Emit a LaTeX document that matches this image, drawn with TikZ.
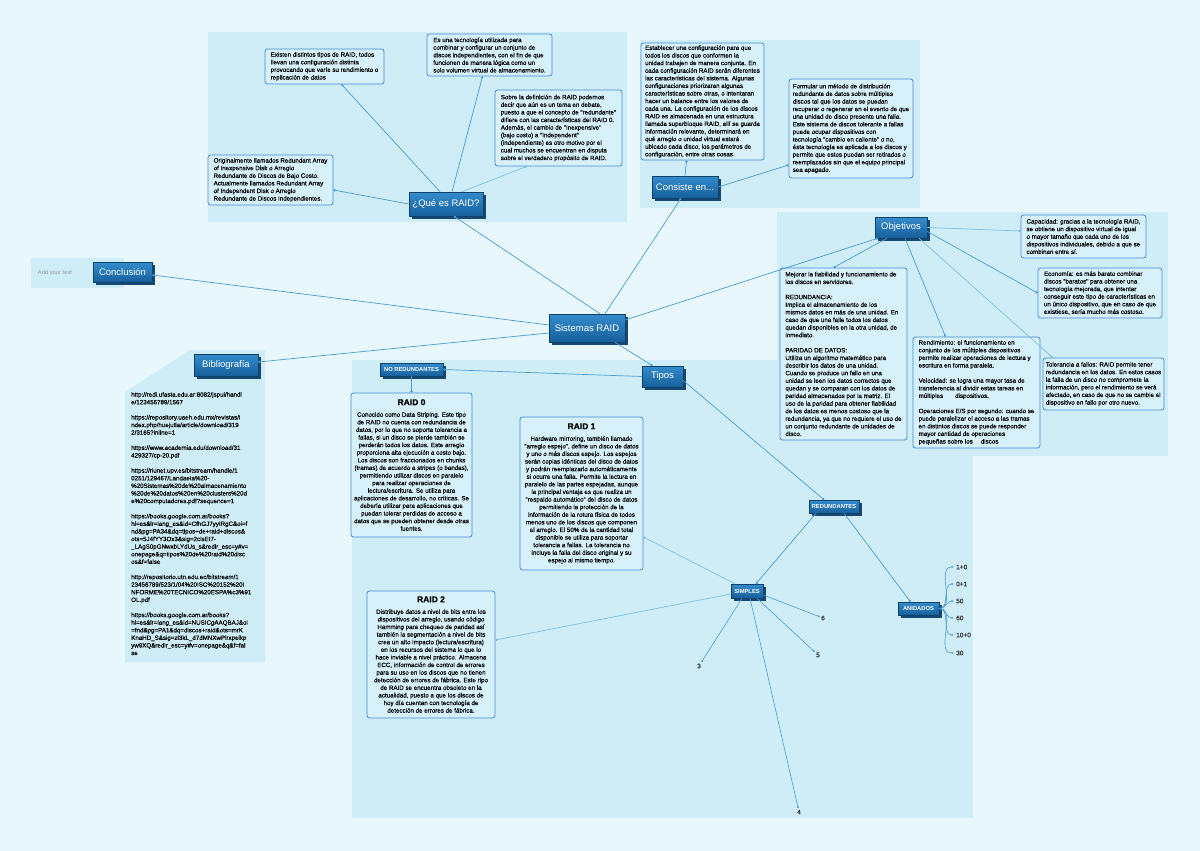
\documentclass[tikz,border=0pt]{standalone}
\usepackage{fontspec}
\setmainfont{Liberation Sans}
\newfontfamily\notefam{Liberation Sans}[FakeBold=0.45]
\usetikzlibrary{arrows.meta,shadows,positioning}

\definecolor{pagebg}{RGB}{232,247,251}
\definecolor{panelbg}{RGB}{206,237,247}
\definecolor{notebg}{RGB}{214,241,250}
\definecolor{noteline}{RGB}{70,135,215}
\definecolor{linkblue}{RGB}{75,155,212}
\definecolor{linklight}{RGB}{125,192,230}
\definecolor{topictop}{RGB}{52,140,205}
\definecolor{topicbot}{RGB}{22,95,155}
\definecolor{topicline}{RGB}{15,65,105}
\definecolor{topicshade}{RGB}{22,72,115}
\definecolor{leafgray}{RGB}{50,50,50}
\definecolor{hintgray}{RGB}{150,150,150}

\newcommand\notesize{\notefam\fontsize{6.2}{7.6}\selectfont}
\newcommand\topicsize{\fontsize{9.5}{11}\selectfont}
\newcommand\tagsize{\fontsize{5.8}{7}\selectfont\bfseries}
\newcommand\leafsize{\notefam\fontsize{6.5}{8}\selectfont}
\newcommand\raidtitle{\fontsize{8.5}{10}\selectfont\bfseries}

\begin{document}
\begin{tikzpicture}[x=1pt,y=-1pt,
  topic/.style={draw=topicline,line width=0.5pt,top color=topictop,bottom color=topicbot,text=white,font=\topicsize,inner sep=0pt,
    drop shadow={shadow xshift=2.5pt,shadow yshift=-2.5pt,fill=topicshade,opacity=1}},
  tagnode/.style={topic,font=\tagsize},
  note/.style={draw=noteline,fill=notebg,line width=0.8pt,rounded corners=2.5pt,align=left,font=\notesize,inner sep=0pt},
  raidnote/.style={note,align=center},
  leaf/.style={font=\leafsize,text=leafgray,inner sep=3pt},
  link/.style={draw=linkblue,line width=0.7pt,-{Circle[length=2.4pt]}},
  softlink/.style={link,draw=linklight},
  leaflink/.style={draw=linkblue,line width=0.6pt,-{Circle[length=1.8pt]}}
]
\fill[pagebg] (0,0) rectangle (1200,851);
\useasboundingbox (0,0) rectangle (1200,851);

% panels
\fill[panelbg] (208,32) rectangle (627,222);
\fill[panelbg] (640,40) rectangle (920,208);
\fill[panelbg] (777,212) rectangle (1168,456);
\fill[panelbg] (352,360) rectangle (973,818);
\fill[panelbg] (125,392) -- (190,350) -- (265,350) -- (265,662) -- (125,662) -- cycle;
\fill[panelbg] (31,258) rectangle (124,288);

% main topics
\node[topic,minimum width=76,minimum height=28] (raid) at (587,328) {Sistemas RAID};
\node[topic,minimum width=74,minimum height=24] (que) at (446,204) {¿Qué es RAID?};
\node[topic,minimum width=66,minimum height=22] (cons) at (685,187) {Consiste en...};
\node[topic,minimum width=52,minimum height=21] (obj) at (901,227.5) {Objetivos};
\node[topic,minimum width=59,minimum height=20] (concl) at (122.5,272) {Conclusión};
\node[topic,minimum width=64,minimum height=22] (biblio) at (226,365) {Bibliografía};
\node[topic,minimum width=41,minimum height=21] (tipos) at (662.5,376.5) {Tipos};
\node[tagnode,minimum width=63,minimum height=13] (nored) at (411.5,369.5) {NO REDUNDANTES};
\node[tagnode,minimum width=50,minimum height=13] (red) at (834,506.5) {REDUNDANTES};
\node[tagnode,minimum width=32,minimum height=14] (simp) at (747,591) {SIMPLES};
\node[tagnode,minimum width=41,minimum height=13] (anid) at (918.5,608.5) {ANIDADOS};

\node[font=\fontsize{5.8}{7}\selectfont,text=hintgray] (hint) at (55,273) {Add your text};

% que es raid
\node[note,minimum width=119,minimum height=35] (q1) at (324.5,66.5) {Existen distintos tipos de RAID, todos\\llevan una configuración distinta\\provocando que varíe su rendimiento o\\replicación de datos};
\node[note,minimum width=125,minimum height=42] (q2) at (489.5,55) {Es una tecnología utilizada para\\combinar y configurar un conjunto de\\discos independientes, con el fin de que\\funcionen de manera lógica como un\\solo volumen virtual de almacenamiento.};
\node[note,minimum width=127,minimum height=76] (q3) at (558.5,128) {Sobre la definición de RAID podemos\\decir que aún es un tema en debate,\\puesto a que el concepto de "redundante"\\difiere con las características del RAID 0.\\Además, el cambio de "Inexpensive"\\(bajo costo) a "Independent"\\(independiente) es otro motivo por el\\cual muchos se encuentran en disputa\\sobre el verdadero propósito de RAID.};
\node[note,minimum width=125,minimum height=50] (q4) at (270.5,180) {Originalmente llamados Redundant Array\\of Inexpensive Disk o Arreglo\\Redundante de Discos de Bajo Costo.\\Actualmente llamados Redundant Array\\of Independent Disk o Arreglo\\Redundante de Discos Independientes.};

% consiste en
\node[note,minimum width=123,minimum height=117] (c1) at (702.5,101.5) {Establecer una configuración para que\\todos los discos que conformen la\\unidad trabajen de manera conjunta. En\\cada configuración RAID serán diferentes\\las características del sistema. Algunas\\configuraciones priorizaran algunas\\características sobre otras, o intentaran\\hacer un balance entre los valores de\\cada una. La configuración de los discos\\RAID es almacenada en una estructura\\llamada superbloque RAID, allí se guarda\\información relevante, determinará en\\qué arreglo o unidad virtual estará\\ubicado cada disco, los parámetros de\\configuración, entre otras cosas.};
\node[note,minimum width=124,minimum height=99] (c2) at (851,128.5) {Formular un método de distribución\\redundante de datos sobre múltiples\\discos tal que los datos se puedan\\recuperar o regenerar en el evento de que\\una unidad de disco presente una falla.\\Este sistema de discos tolerante a fallas\\puede ocupar dispositivos con\\tecnología "cambio en caliente" o no,\\ésta tecnología es aplicada a los discos y\\permite que estos puedan ser retirados o\\reemplazados sin que el equipo principal\\sea apagado.};

% objetivos
\node[note,minimum width=125,minimum height=43] (o1) at (1083.5,236.5) {Capacidad: gracias a la tecnología RAID,\\se obtiene un dispositivo virtual de igual\\o mayor tamaño que cada uno de los\\dispositivos individuales, debido a que se\\combinan entre sí.};
\node[note,minimum width=124,minimum height=50] (o2) at (1100,293) {Economía: es más barato combinar\\discos "baratos" para obtener una\\tecnología mejorada, que intentar\\conseguir este tipo de características en\\un único dispositivo, que en caso de que\\existiese, sería mucho más costoso.};
\node[note,minimum width=127,minimum height=172] (o3) at (843.5,354) {Mejorar la fiabilidad y funcionamiento de\\los discos en servidores.\\[7.6pt]REDUNDANCIA:\\Implica el almacenamiento de los\\mismos datos en más de una unidad. En\\caso de que una falle todos los datos\\quedan disponibles en la otra unidad, de\\inmediato.\\[7.6pt]PARIDAD DE DATOS:\\Utiliza un algoritmo matemático para\\describir los datos de una unidad.\\Cuando se produce un fallo en una\\unidad se leen los datos correctos que\\quedan y se comparan con los datos de\\paridad almacenados por la matriz. El\\uso de la paridad para obtener fiabilidad\\de los datos es menos costoso que la\\redundancia, ya que no requiere el uso de\\un conjunto redundante de unidades de\\disco.};
\node[note,minimum width=127,minimum height=111] (o4) at (976.5,392.5) {Rendimiento: el funcionamiento en\\conjunto de los múltiples dispositivos\\permite realizar operaciones de lectura y\\escritura en forma paralela.\\[7.6pt]Velocidad: se logra una mayor tasa de\\transferencia al dividir estas tareas en\\múltiples\hspace{12pt}dispositivos.\\[7.6pt]Operaciones E/S por segundo: cuando se\\puede paralelizar el acceso a las tramas\\en distintos discos se puede responder\\mayor cantidad de operaciones\\pequeñas sobre los\hspace{8pt}discos};
\node[note,minimum width=121,minimum height=52] (o5) at (1103.5,384) {Tolerancia a fallos: RAID permite tener\\redundancia en los datos. En estos casos\\la falla de un disco no compromete la\\información, pero el rendimiento se verá\\afectado, en caso de que no se cambie el\\dispositivo en fallo por otro nuevo.};

% tipos
\node[raidnote,minimum width=121,minimum height=144] (r0) at (411.5,465) {{\raidtitle RAID 0}\\[4pt]Conocido como Data Striping. Este tipo\\de RAID no cuenta con redundancia de\\datos, por lo que no soporta tolerancia a\\fallas, si un disco se pierde también se\\perderán todos los datos. Este arreglo\\proporciona alta ejecución a costo bajo.\\Los discos son fraccionados en chunks\\(tramas) de acuerdo a stripes (o bandas),\\permitiendo utilizar discos en paralelo\\para realizar operaciones de\\lectura/escritura. Se utiliza para\\aplicaciones de desarrollo, no críticas. Se\\debería utilizar para aplicaciones que\\puedan tolerar perdidas de acceso a\\datos que se pueden obtener desde otras\\fuentes.};
\node[raidnote,minimum width=123,minimum height=153] (r1) at (581.5,493.5) {{\raidtitle RAID 1}\\[4pt]Hardware mirroring, también llamado\\"arreglo espejo", define un disco de datos\\y uno o más discos espejo. Los espejos\\serán copias idénticas del disco de datos\\y podrán reemplazarlo automáticamente\\si ocurre una falla. Permite la lectura en\\paralelo de las partes espejadas, aunque\\la principal ventaja es que realiza un\\"respaldo automático" del disco de datos\\permitiendo la protección de la\\información de la rotura física de todos\\menos uno de los discos que componen\\el arreglo. El 50\% de la cantidad total\\disponible se utiliza para soportar\\tolerancia a fallas. La tolerancia no\\incluye la falla del disco original y su\\espejo al mismo tiempo.};
\node[raidnote,minimum width=128,minimum height=127] (r2) at (431,654.5) {{\raidtitle RAID 2}\\[4pt]Distribuye datos a nivel de bits entre los\\dispositivos del arreglo, usando código\\Hamming para chequeo de paridad así\\también la segmentación a nivel de bits\\crea un alto impacto (lectura/escritura)\\en los recursos del sistema lo que lo\\hace inviable a nivel práctico. Almacena\\ECC, información de control de errores\\para su uso en los discos que no tienen\\detección de errores de fábrica. Este ripo\\de RAID se encuentra obsoleto en la\\actualidad, puesto a que los discos de\\hoy día cuentan con tecnología de\\detección de errores de fábrica.};

% bibliografia
\node[font=\notesize,align=left,anchor=north west,inner sep=0pt] (refs) at (131,392) {http://redi.ufasta.edu.ar:8082/jspui/handl\\e/123456789/1567\\[7.6pt]https://repository.uaeh.edu.mx/revistas/i\\ndex.php/huejutla/article/download/319\\2/3165?inline=1\\[7.6pt]https://www.academia.edu/download/31\\429327/cp-20.pdf\\[7.6pt]https://riunet.upv.es/bitstream/handle/1\\0251/129467/Landaeta\%20-\\\%20Sistemas\%20de\%20almacenamiento\\\%20de\%20datos\%20en\%20clusters\%20d\\e\%20computadores.pdf?sequence=1\\[7.6pt]https://books.google.com.ar/books?\\hl=es\&lr=lang\_es\&id=CfhGJ7yyIRgC\&oi=f\\nd\&pg=PA34\&dq=tipos+de+raid+discos\&\\ots=5J4fYY3Ox3\&sig=2clsEt7-\\\_LAgS0pGNwxbLYdUs\_s\&redir\_esc=y\#v=\\onepage\&q=tipos\%20de\%20raid\%20disc\\os\&f=false\\[7.6pt]http://repositorio.utn.edu.ec/bitstream/1\\23456789/523/1/04\%20ISC\%20152\%20I\\NFORME\%20TECNICO\%20ESPA\%c3\%91\\OL.pdf\\[7.6pt]https://books.google.com.ar/books?\\hl=es\&lr=lang\_es\&id=NUSICgAAQBAJ\&oi\\=fnd\&pg=PA1\&dq=discos+raid\&ots=mrK\\KnaHD\_S\&sig=zl3kL\_d7dMNXwPlrxpelkp\\yw9XQ\&redir\_esc=y\#v=onepage\&q\&f=fal\\se};

% leaves
\node[leaf,anchor=west] (n10) at (953,567) {1+0};
\node[leaf,anchor=west] (n01) at (953,584) {0+1};
\node[leaf,anchor=west] (n50) at (953,601) {50};
\node[leaf,anchor=west] (n60) at (953,618) {60};
\node[leaf,anchor=west] (n100) at (953,635) {10+0};
\node[leaf,anchor=west] (n30) at (953,653) {30};
\node[leaf,inner sep=1.5pt] (s6) at (823,618) {6};
\node[leaf,inner sep=1.5pt] (s5) at (818,655) {5};
\node[leaf,inner sep=1.5pt] (s3) at (699,666) {3};
\node[leaf,inner sep=1.5pt] (s4) at (799,812) {4};

% connectors
\draw[link] ([xshift=13]raid.north) -- ([xshift=8]que.south);
\draw[link] ([xshift=18]raid.north) -- ([xshift=-4]cons.south);
\draw[link] ([yshift=8]raid.east) -- ([xshift=3]obj.south west);
\draw[link] ([yshift=3]raid.west) -- ([yshift=-3]concl.east);
\draw[link] ([yshift=-5]raid.west) -- ([yshift=3]biblio.east);
\draw[link] ([xshift=28]raid.south) -- ([xshift=-10]tipos.north);
\draw[link] ([xshift=-6]que.north) -- ([xshift=17]q1.south);
\draw[link] ([xshift=6]que.north) -- ([xshift=-7]q2.south);
\draw[softlink] ([xshift=16]que.north) -- ([xshift=32]q3.south west);
\draw[link] (que.west) -- ([yshift=-10]q4.east);
\draw[link] (cons.north) -- ([xshift=-16]c1.south);
\draw[link] (cons.east) -- ([yshift=-36.5]c2.west);
\draw[softlink] (obj.east) -- ([yshift=5.5]o1.west);
\draw[link] ([yshift=-4]obj.east) -- (o2.west);
\draw[link] ([xshift=-14]obj.south) -- ([xshift=-10]o3.north);
\draw[link] ([xshift=4]obj.south) -- ([xshift=-31]o4.north);
\draw[softlink] ([xshift=18]obj.south) -- ([xshift=10]o5.north west);
\draw[link] (tipos.west) -- (nored.east);
\draw[link] (nored.south) -- (r0.north);
\draw[link] ([yshift=-4]tipos.east) -- ([xshift=-10]red.north);
\draw[link] ([xshift=-18]red.south) -- ([xshift=9]simp.north);
\draw[link] ([xshift=10]red.south) -- ([xshift=-8]anid.north);
\draw[softlink] ([xshift=-12]simp.north) -- ([yshift=-43.5]r1.east);
\draw[softlink] ([yshift=-3]simp.west) -- ([yshift=14.5]r2.east);
\draw[leaflink] ([yshift=-4]simp.east) -- (s6);
\draw[leaflink] ([xshift=10]simp.south) -- (s5);
\draw[leaflink] ([xshift=-5]simp.south) -- (s3);
\draw[leaflink] ([xshift=3]simp.south) -- (s4);
\foreach \leafname in {n10,n01,n50,n60,n100,n30}
  \draw[leaflink] (anid.east) to[out=0,in=180] (\leafname.west);
\end{tikzpicture}
\end{document}
